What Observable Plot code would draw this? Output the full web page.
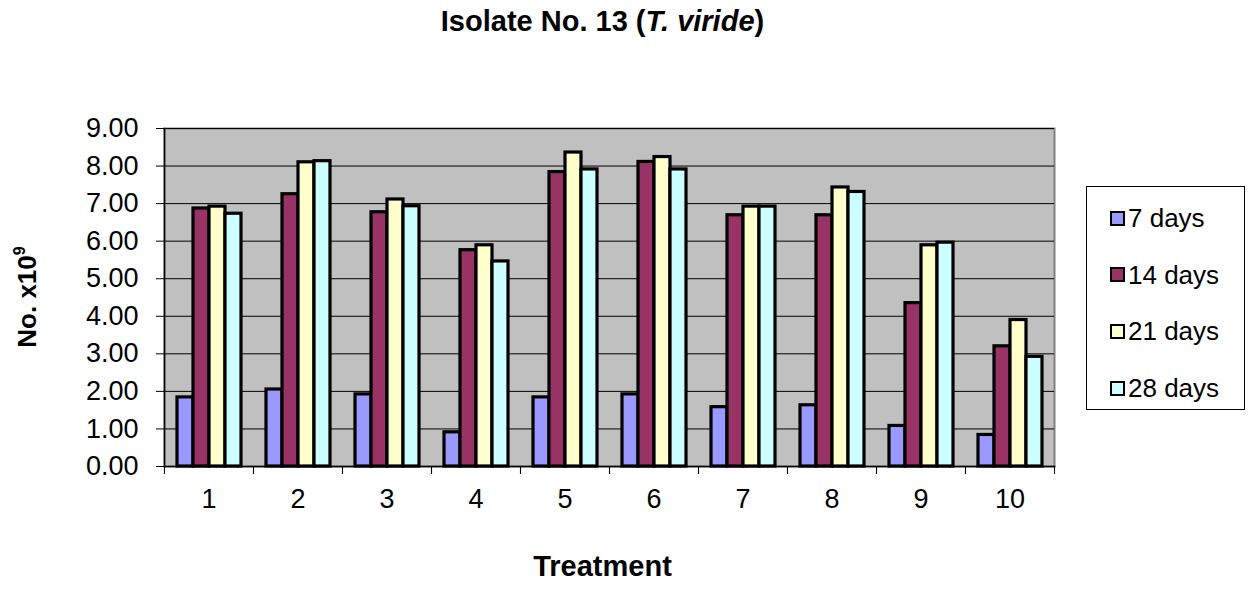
<!DOCTYPE html>
<html>
<head>
<meta charset="utf-8">
<script src="https://cdn.jsdelivr.net/npm/d3@7"></script>
<script src="https://cdn.jsdelivr.net/npm/@observablehq/plot@0.6"></script>
<style>
  html, body { margin: 0; padding: 0; background: #fff; }
  #wrap { position: relative; width: 1251px; height: 601px; font-family: "Liberation Sans", Arial, sans-serif; color: #000; }
  #chart { position: absolute; left: 0; top: 0; }
  .title { position: absolute; left: 0; width: 1205px; text-align: center; font-weight: bold; font-size: 29px; line-height: 29px; white-space: nowrap; }
  #ylab { position: absolute; width: 200px; height: 30px; line-height: 30px; left: -73px; top: 282px; transform: rotate(-90deg); text-align: center; font-weight: bold; font-size: 26px; white-space: nowrap; }
  #legend { position: absolute; left: 1086px; top: 186px; width: 159px; height: 224px; border: 1px solid #000; box-sizing: border-box; }
  .item { position: absolute; left: 23px; height: 30px; line-height: 30px; font-size: 26px; white-space: nowrap; }
  .sw { display: inline-block; width: 11px; height: 11px; border: 2.5px solid #000; margin-right: 3px; vertical-align: middle; position: relative; top: -2px; }
</style>
</head>
<body>
<div id="wrap">
  <div id="chart"></div>
  <div class="title" style="top:7px">Isolate No. 13 (<i>T. viride</i>)</div>
  <div class="title" style="top:552px">Treatment</div>
  <div id="ylab">No. x10<span style="font-size:16px;position:relative;top:-11px">9</span></div>
  <div id="legend"></div>
</div>
<script>
const treatments = ["1","2","3","4","5","6","7","8","9","10"];
const series = ["7 days","14 days","21 days","28 days"];
const days7  = [1.84, 2.05, 1.92, 0.91, 1.84, 1.92, 1.58, 1.63, 1.08, 0.84];
const days14 = [6.87, 7.25, 6.77, 5.76, 7.84, 8.11, 6.69, 6.69, 4.35, 3.20];
const days21 = [6.92, 8.10, 7.11, 5.89, 8.36, 8.24, 6.92, 7.43, 5.89, 3.90];
const days28 = [6.73, 8.13, 6.93, 5.46, 7.91, 7.91, 6.92, 7.31, 5.96, 2.92];
const colors = ["#9999ff", "#993366", "#ffffcc", "#ccffff"];
const yTicks = [0, 1, 2, 3, 4, 5, 6, 7, 8, 9];

const seriesValues = [days7, days14, days21, days28];
const data = treatments.flatMap((t, i) =>
  series.map((s, j) => ({treatment: t, series: s, value: seriesValues[j][i]}))
);

const W = 1251, H = 601, ML = 163, MR = 197, MT = 128, MB = 135;
const halfBand = (W - ML - MR) / treatments.length / 2;

const chart = Plot.plot({
  width: W, height: H,
  marginLeft: ML, marginRight: MR, marginTop: MT, marginBottom: MB,
  style: {fontFamily: "'Liberation Sans', Arial, sans-serif", fontSize: "27px", background: "transparent", color: "#000", overflow: "visible"},
  fx: {domain: treatments, padding: 0, label: null, axis: null},
  x: {domain: series, paddingInner: 0, paddingOuter: 0.72, axis: null},
  y: {domain: [0, 9], label: null, axis: null},
  color: {domain: series, range: colors},
  marks: [
    Plot.frame({fill: "#c0c0c0", stroke: "#808080", strokeWidth: 2, facet: "super"}),
    Plot.gridY(yTicks, {stroke: "#000", strokeOpacity: 1, strokeWidth: 1}),
    Plot.frame({anchor: "left", stroke: "#000", strokeWidth: 1.5, facet: "super"}),
    Plot.frame({anchor: "bottom", stroke: "#000", strokeWidth: 1.5, facet: "super"}),
    Plot.barY(data, {fx: "treatment", x: "series", y: "value", fill: "series", stroke: "#000", strokeWidth: 3.2}),
    Plot.axisY(yTicks, {tickFormat: d3.format(".2f"), tickSize: 8, tickPadding: 18, label: null, stroke: "#000", strokeOpacity: 1}),
    Plot.axisFx({anchor: "bottom", tickSize: 0, tickPadding: 22, label: null}),
    Plot.axisFx({anchor: "bottom", tickSize: 8, tickFormat: () => "", label: null, dx: -halfBand, strokeOpacity: 1}),
    Plot.axisFx({anchor: "bottom", tickSize: 8, tickFormat: () => "", label: null, dx: halfBand, strokeOpacity: 1})
  ]
});
document.getElementById("chart").appendChild(chart);

const legend = document.getElementById("legend");
const rowCenters = [31, 87.7, 144.3, 201];
series.forEach((s, i) => {
  const it = document.createElement("div");
  it.className = "item";
  it.style.top = (rowCenters[i] - 15) + "px";
  const sw = document.createElement("span");
  sw.className = "sw";
  sw.style.background = colors[i];
  it.appendChild(sw);
  it.appendChild(document.createTextNode(s));
  legend.appendChild(it);
});
</script>
</body>
</html>
